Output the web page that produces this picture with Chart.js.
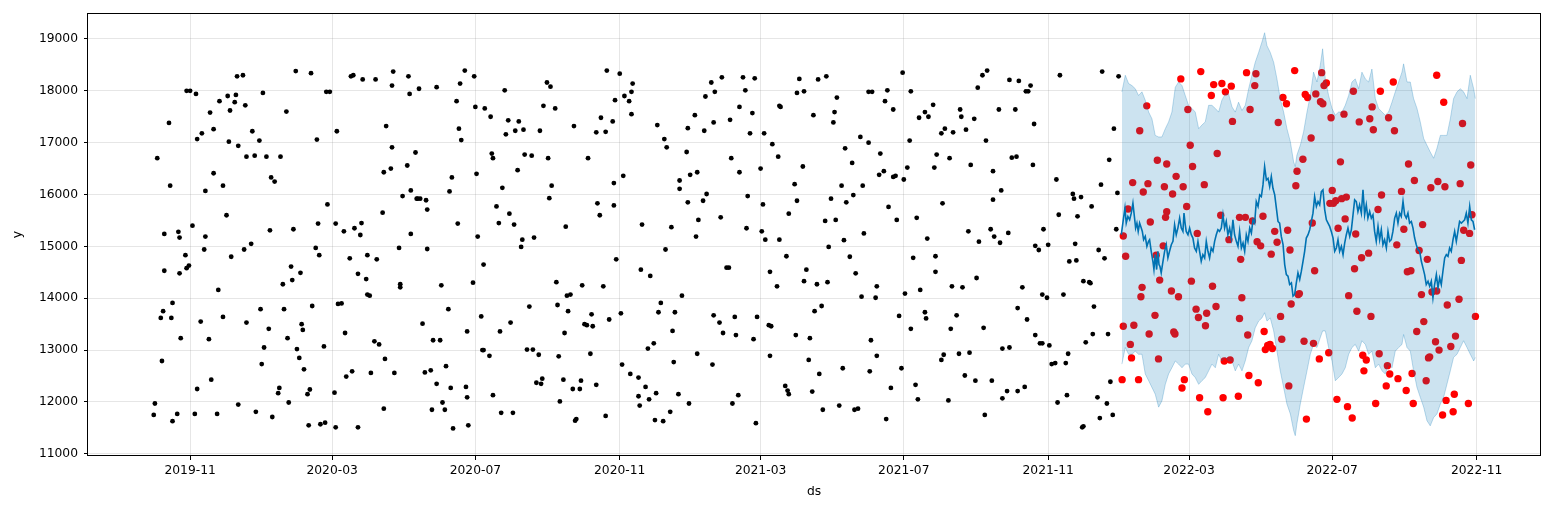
<!DOCTYPE html>
<html>
<head>
<meta charset="utf-8">
<script src="https://cdn.jsdelivr.net/npm/chart.js@4.4.0/dist/chart.umd.min.js"></script>
<style>
html,body{margin:0;padding:0;background:#fff;}
canvas{display:block;}
</style>
</head>
<body>
<canvas id="c" width="1550" height="511"></canvas>
<script>
// x values are days counted from 2019-11-01
const xTickDays = [0, 121, 243, 366, 486, 608, 731, 851, 973, 1096];
const xTickLabels = ['2019-11','2020-03','2020-07','2020-11','2021-03','2021-07','2021-11','2022-03','2022-07','2022-11'];
const yTickValues = [11000,12000,13000,14000,15000,16000,17000,18000,19000];

// history (black dots)
const trainDay = [
-31,-30,-28,-25,-24,-23,-22,-22,-18,-17,-16,-15,-15,-11,-10,-9,-9,-8,-4,-3,-1,-3,0,2,4,5,6,6,9,10,12,13,13,16,17,18,20,20,23,24,25,28,28,31,32,33,34,35,38,39,40,41,41,45,46,47,48,48,52,53,55,56,59,60,61,62,63,65,67,68,69,70,72,75,76,77,79,80,82,83,84,86,87,88,90,91,93,94,95,96,97,
100,102,101,103,104,107,108,109,110,111,114,115,116,117,119,123,124,124,125,126,129,131,132,133,136,137,139,138,140,143,143,145,146,147,150,151,151,153,154,157,158,159,161,164,165,165,166,167,171,172,172,173,174,178,179,179,181,185,186,187,188,188,192,193,194,196,195,198,200,201,202,202,205,206,207,210,210,213,214,215,217,218,220,221,222,223,224,227,228,229,230,231,234,235,236,236,237,
241,242,243,244,245,248,249,250,250,251,255,256,257,258,258,261,263,264,265,266,268,269,271,272,273,275,276,277,279,280,282,283,284,285,287,289,291,292,293,295,297,298,299,300,301,304,307,305,306,308,311,312,313,314,315,318,319,320,321,322,324,326,327,328,329,332,333,334,336,338,343,339,341,342,346,346,347,349,350,352,354,354,355,357,360,361,361,362,363,366,367,368,369,370,374,375,376,376,377,
382,382,383,384,385,388,390,391,392,395,396,397,398,399,401,403,404,405,406,409,410,411,412,413,416,417,417,419,423,424,424,425,426,430,431,432,432,433,437,438,439,440,444,445,446,446,447,451,452,453,454,457,459,460,461,462,464,465,467,468,468,471,473,474,475,477,479,480,481,482,483,486,487,488,489,490,493,495,494,494,496,500,501,502,502,503,507,508,509,510,510,515,516,517,517,519,
522,523,523,525,527,528,530,531,532,534,535,536,538,539,541,542,543,544,546,548,549,550,551,553,555,556,557,558,559,562,564,565,566,567,569,571,572,573,574,578,578,581,579,580,584,585,585,587,588,591,592,593,594,595,597,599,599,601,602,604,606,607,608,609,611,613,614,614,616,618,619,620,621,622,626,626,627,628,629,633,634,635,635,636,640,640,641,642,643,646,647,648,649,650,653,655,656,657,658,660,661,
663,664,665,668,669,670,671,672,675,676,677,678,679,682,683,684,684,685,689,690,691,692,692,696,697,698,698,700,703,704,705,705,706,709,711,712,714,713,716,718,719,720,720,723,724,726,726,727,730,731,732,734,737,738,739,740,741,744,746,747,748,749,752,753,754,755,756,759,760,761,761,763,766,767,768,769,770,773,774,775,776,777,779,781,782,783,784,786,787,789,790,791
];
const trainY = [
11750,11970,16700,13620,12790,13750,15240,14530,17380,16170,13620,11630,13910,11770,15280,15170,14480,13230,14830,14580,14630,18000,18000,15400,11770,17940,12250,17070,13550,17180,14940,15190,16070,13210,17580,12430,16410,17260,11770,14160,17800,13640,16170,15600,17900,17020,17620,14800,17780,17920,18280,16940,11950,18300,14940,17720,13530,16730,15050,17220,16750,11810,17040,13790,12730,17960,13050,16730,13410,15310,16330,11710,16250,12170,12270,16730,14270,13790,17600,13230,11990,14610,14350,15330,18380,13020,12850,14490,13500,13390,12630,
12150,12240,11550,18340,13850,14970,17060,15440,14830,11570,13070,11600,17980,15810,17980,12180,15440,11510,17220,13890,13900,15290,13330,12490,14770,18280,18300,12590,15350,14470,11510,15220,15450,18220,14370,14830,14070,14050,12560,13170,18220,14750,13110,15650,11870,16430,12830,17320,16500,18100,16910,18370,12560,14970,14210,14270,15970,16560,18280,17940,16080,15240,16810,15920,15920,15920,18040,13510,12570,15890,15710,14950,12610,11850,13190,18070,12350,13190,14250,11990,11850,12690,13790,16060,12270,16330,11490,17800,15440,17270,18140,17050,18390,12290,12090,13360,11550,
14300,18280,17690,16400,15190,13650,13000,13000,14650,17660,12890,17500,16790,16700,12130,15770,15450,13360,11790,16130,18010,17160,17430,15630,13530,11790,15420,17230,16470,17410,14990,15130,17250,16770,13010,13840,16750,13010,15170,12370,12910,17230,12350,12450,17710,18160,18080,16700,15930,16170,17660,14310,13870,12880,12010,12430,13330,15380,14050,13750,14070,12250,17320,11640,11670,12250,12410,14250,13500,13480,13460,16700,12930,13690,12330,17200,15830,15600,17480,14230,11730,17210,18390,13590,17410,15790,16220,17820,14750,18330,13710,12720,16360,17900,17800,12540,17980,17550,18140,
12110,12470,11930,14550,15420,12290,13030,12050,14430,13130,11650,12170,17340,13730,13910,11630,17070,14940,16910,11810,15370,13370,12770,13730,12150,16270,16110,14050,16820,17280,15850,11970,16380,17530,15190,12930,16430,15510,15880,17230,17890,16010,18160,12720,17390,13670,17980,13530,15560,18260,13330,14590,14590,17440,16700,11970,13640,13290,12130,16430,17690,18260,18010,15350,15970,17180,17570,13210,18240,11590,13640,16500,15290,15810,17180,15130,13480,13460,12890,14510,16970,14230,16730,15130,17710,17690,12310,14810,12220,12150,15630,16200,13290,15880,17960,18230,
16540,17990,14330,14550,12810,13230,12200,17530,13750,14270,18220,12540,13850,11850,15490,18280,14310,14990,15920,17390,17590,15510,17870,11930,16170,12650,15120,16890,15850,14800,16610,15990,11850,14480,11870,17110,14030,16170,15250,17000,17980,17980,12590,13190,14010,14230,12890,16380,16790,16450,17800,11670,18010,15760,12270,17640,16340,16360,15510,13660,12650,18350,16290,14090,16520,17040,13410,17990,14780,12330,15550,12050,17480,14160,13730,17590,13610,15150,17500,17730,16520,14810,14510,16770,12810,17180,15830,12910,17270,12030,16700,13410,14230,17200,13670,12930,17640,17500,14210,12510,17250,
15290,12950,16570,17460,12410,14390,18060,15090,18300,13430,11750,17040,18390,15330,12410,15900,16450,15190,17640,15070,16080,12070,13030,12210,15260,18210,13050,16710,17640,16730,13810,12210,18190,14210,12290,17990,17990,13590,18100,16570,17360,15010,13290,14930,13130,13130,14070,15330,14010,15030,13090,12730,12750,16290,11990,15610,18300,14070,12750,12130,12930,14710,16010,15920,15050,14730,15580,15950,11510,11530,14330,13150,14310,14290,15770,13310,13840,12090,14930,11690,16190,18370,14770,11970,13310,16670,12390,11750,17270,15330,16030,18280
];

// actual values in the forecast period (red dots)
const testDay = [
794,795,795,797,799,801,802,803,804,808,809,810,811,812,815,816,817,818,822,823,824,825,826,829,830,831,832,832,836,837,838,839,840,842,844,845,846,847,849,850,852,853,854,857,858,859,860,861,864,865,866,867,870,872,871,874,875,878,879,880,881,882,885,886,887,888,
893,894,895,896,894,899,900,901,902,903,905,907,908,909,910,912,914,915,916,918,920,922,921,924,926,927,929,930,931,934,935,936,937,938,941,943,942,944,945,948,949,950,951,952,955,956,957,958,959,962,963,964,965,966,968,970,972,973,971,974,976,977,978,980,981,983,984,985,986,987,990,991,992,993,994,996,
998,999,1002,1000,1004,1006,1005,1007,1008,1010,1012,1013,1014,1015,1019,1020,1021,1022,1025,1026,1028,1029,1032,1034,1036,1037,1038,1040,1041,1042,1043,1045,1047,1049,1050,1051,1053,1054,1055,1056,1057,1058,1061,1062,1062,1063,1064,1067,1068,1069,1070,1071,1074,1076,1077,1078,1081,1082,1083,1084,1085,1089,1090,1091,1092,1095
];
const testY = [
12430,15200,13460,14810,15720,13110,12850,16230,13480,12430,17230,14030,14210,16050,17710,16210,13310,15470,13670,14830,16660,12830,14350,15010,16150,15560,15670,16590,14140,16010,13350,13310,16350,14030,18230,12270,16150,12430,15770,17640,16950,14330,16540,13790,15250,13630,12080,18370,16190,13470,13710,11810,17910,18120,14230,13840,16790,15600,18140,12080,12790,17980,15130,12810,18090,17410,
12110,13610,14750,14010,15560,15560,18350,13290,12510,17640,15490,18100,18330,15090,12370,15010,15580,13360,13010,13090,13110,13030,14850,15290,15080,17390,13650,13210,17870,17750,15310,12310,14930,13890,18390,16450,16170,14070,14090,16680,13170,17930,11670,17870,17090,15450,13130,14530,17940,12830,17790,18350,17750,18100,18150,12950,17480,16080,15830,15830,15880,12050,15350,16630,15920,17550,15530,15950,11910,14050,11690,17990,14570,15240,13750,17400,
14780,12900,12810,12600,14870,13650,17460,17690,17250,11970,15710,12930,17990,15990,12310,12700,17480,12540,18170,17230,15030,12450,16060,15330,12220,14510,16590,14530,12550,11970,16270,13360,14920,14070,15420,13550,12410,14750,12850,12870,16130,14120,13160,14140,18300,16250,13000,11750,17780,16150,12030,13870,13070,11810,12150,13270,13980,16210,14730,17370,15310,11970,15250,16570,15610,13650
];

// forecast line (yhat)
const fcDay = [
793.3,795.2,796.4,797.5,798.9,800.4,801.8,803.2,804.6,805.5,806.6,807.7,808.9,810.3,811.2,812.3,813.7,815.1,816.5,817.4,818.8,820.2,821.1,822.2,823.4,824.5,825.4,826.2,827.3,828.8,830.2,831.6,833.0,834.4,835.9,837.3,838.7,840.1,841.5,843.0,844.4,845.8,846.7,847.8,848.6,850.1,851.5,852.9,854.3,855.7,857.2,858.6,860.0,861.4,862.8,864.3,865.7,867.1,868.5,869.9,871.4,872.8,874.2,875.6,877.0,878.5,879.9,881.3,882.7,884.1,885.6,887.0,888.4,889.8,
891.3,892.7,894.1,895.6,897.0,898.4,899.8,901.2,902.7,904.1,905.5,906.9,908.3,909.8,911.2,912.6,914.0,915.4,916.9,918.3,919.7,921.1,922.5,924.0,925.4,926.8,928.2,929.6,931.1,932.5,933.9,935.3,936.7,938.2,939.6,941.0,942.4,943.8,945.3,946.7,948.1,949.5,950.9,952.4,953.8,955.2,956.6,958.0,959.5,960.9,962.3,963.7,965.1,966.6,968.0,969.4,970.8,972.2,973.7,975.1,976.5,977.9,979.3,980.8,982.2,983.6,985.0,986.4,987.9,989.3,990.7,992.1,
993.5,994.9,996.3,997.8,999.2,1000.6,1002.0,1003.4,1004.9,1006.3,1007.7,1009.1,1010.5,1012.0,1013.4,1014.8,1016.2,1017.6,1019.1,1020.5,1021.9,1023.3,1024.7,1026.2,1027.6,1029.0,1030.4,1031.8,1033.3,1034.7,1036.1,1037.5,1038.9,1040.4,1041.8,1043.2,1044.6,1046.0,1047.5,1048.9,1050.3,1051.7,1053.1,1054.6,1056.0,1057.4,1058.8,1060.2,1061.7,1063.1,1064.5,1065.9,1067.3,1068.8,1070.2,1071.6,1073.0,1074.4,1075.9,1077.3,1078.7,1080.1,1081.5,1083.0,1084.4,1085.8,1087.2,1088.6,1090.1,1091.5,1092.9,1094.3
];
const fcY = [
15225,15545,15737,15449,15577,15513,15641,15833,15545,15353,15449,15289,15449,15353,15289,15129,15193,15001,15097,15129,14905,14713,14553,14841,14553,14905,14649,14617,14489,14713,14905,15033,14777,14905,15033,15097,15417,15225,15353,15545,15353,15289,15641,15417,15289,15225,15353,15225,15161,14969,14905,15097,14905,14713,14841,14777,15097,14905,14777,14969,14905,15097,15225,15321,15289,15353,15609,15353,15481,15225,15353,15161,15513,15225,
15097,15001,15289,14969,15065,14905,15225,15097,15353,15257,15513,15449,15865,15769,15993,15961,16185,16537,16281,16313,16153,16345,16121,15993,15737,15481,15449,15193,15033,14649,14457,14425,14265,14297,14041,14073,14297,14489,14361,14521,14713,14905,15161,15225,15321,15481,15641,15961,15769,15865,15801,16057,16089,15705,15513,15449,15385,15289,15161,14905,14969,15129,14905,15001,14841,15065,15225,15353,15193,15321,15609,15897,
15865,15673,15801,15641,16089,15609,15801,15545,15673,15545,15609,15289,15097,15385,15129,15321,15033,15129,14969,15289,15097,15129,15289,15545,15641,15449,15641,15577,15865,15609,15545,15641,15449,15481,15353,15161,15033,14937,14905,14713,14585,14457,14265,14329,14233,14329,14009,14265,14457,14201,14393,14265,14521,14777,14841,14809,14969,14905,15129,15289,15097,15289,15481,15449,15481,15513,15641,15449,15769,15513,15481,15321
];

// uncertainty interval
const bandDay = [
793.8,796.7,799.5,802.4,805.2,808.0,810.9,813.7,816.6,819.4,822.2,825.1,827.9,830.8,833.6,836.4,839.3,842.1,845.0,847.8,850.6,853.5,856.3,859.2,862.0,864.8,867.7,870.5,873.4,876.2,879.0,881.9,884.7,887.6,
890.4,893.2,896.1,898.9,901.8,904.6,907.4,910.3,913.1,915.4,917.4,920.2,923.1,925.9,928.7,931.6,934.4,937.3,940.1,941.5,942.9,945.8,948.6,951.5,954.3,957.1,960.0,962.8,964.8,967.1,969.9,972.8,975.6,978.4,981.3,984.1,987.0,989.8,992.6,995.5,
998.3,1001.2,1004.0,1006.8,1009.7,1012.5,1015.4,1018.2,1021.0,1023.9,1026.7,1029.6,1032.4,1033.8,1036.7,1039.5,1042.3,1045.2,1048.0,1050.9,1053.7,1056.5,1059.4,1062.2,1065.1,1067.9,1070.7,1073.6,1076.4,1079.3,1082.1,1084.9,1087.8,1090.6,1093.5,1094.9
];
const bandUpper = [
17980,18300,18140,18100,18040,17910,17980,17820,17590,17460,17140,17110,17110,17270,17400,17590,18070,18170,18100,17910,17720,17660,17590,17270,17340,17400,17720,17720,17660,17590,17820,17940,17940,17690,
17590,17780,17620,17720,18040,18300,18550,18740,18940,19120,18870,18740,18550,18230,17850,17590,17270,17020,16630,16540,16760,16950,17210,17590,17910,18360,18170,18490,18810,18230,17910,17660,17530,17590,17590,17720,17910,18170,18230,18040,
18360,18230,18170,18420,17850,17660,17590,17530,17590,17780,17980,18170,18360,18520,18170,18170,17850,17660,17400,17080,16950,16820,16700,16890,17140,17140,17140,17460,17850,17980,18040,17980,17850,18300,18040,17850
];
const bandLower = [
12730,13050,12920,12920,12980,12920,12920,12540,12410,12280,12150,11900,12020,12340,12540,12660,12790,12730,12660,12730,12730,12540,12470,12340,12410,12470,12600,12730,12660,12920,12790,12860,12790,12790,
12600,12730,12600,12790,13050,13180,13430,13560,13620,13720,13560,13620,13370,12980,12600,12280,11960,11770,11450,11350,11580,11960,12280,12600,12920,13110,13050,13240,13370,13370,13050,12790,12410,12470,12540,12660,12920,13050,13110,12980,
13180,13110,12920,12980,12660,12730,12600,12540,12730,12660,12980,13050,13110,13300,13050,12980,12600,12280,12090,11900,11640,11540,11700,11770,11960,12090,12340,12600,12860,12920,13050,13180,13050,12920,12790,12860
];

function pts(xs, ys) { return xs.map((x, i) => ({ x: x, y: ys[i] })); }

const FONT = 'DejaVu Sans';
const BLUE = '#0072B2';

const whiteBg = {
  id: 'whiteBg',
  beforeDraw(chart) {
    const ctx = chart.ctx;
    ctx.save();
    ctx.fillStyle = '#ffffff';
    ctx.fillRect(0, 0, chart.width, chart.height);
    ctx.restore();
  }
};
const frame = {
  id: 'frame',
  afterDraw(chart) {
    const a = chart.chartArea, ctx = chart.ctx;
    ctx.save();
    ctx.strokeStyle = '#000000';
    ctx.lineWidth = 1;
    ctx.strokeRect(Math.round(a.left) - 0.5, Math.round(a.top) + 0.5, Math.round(a.right - a.left) + 1, Math.round(a.bottom - a.top) - 1);
    ctx.restore();
  }
};

new Chart(document.getElementById('c'), {
  type: 'line',
  data: {
    datasets: [
      { label: 'history', data: pts(trainDay, trainY), showLine: false, pointRadius: 2.4, pointHoverRadius: 2.4,
        pointBackgroundColor: '#000000', pointBorderWidth: 0, borderColor: '#000000', order: 5 },
      { label: 'actual', data: pts(testDay, testY), showLine: false, pointRadius: 3.7, pointHoverRadius: 3.7,
        pointBackgroundColor: '#ff0000', pointBorderWidth: 0, borderColor: '#ff0000', order: 4 },
      { label: 'yhat_lower', data: pts(bandDay, bandLower), showLine: true, borderColor: 'rgba(0,114,178,0.25)',
        borderWidth: 1, pointRadius: 0, fill: false, tension: 0, order: 3 },
      { label: 'yhat_upper', data: pts(bandDay, bandUpper), showLine: true, borderColor: 'rgba(0,114,178,0.25)',
        borderWidth: 1, pointRadius: 0, fill: '-1', backgroundColor: 'rgba(0,114,178,0.2)', tension: 0, order: 2 },
      { label: 'yhat', data: pts(fcDay, fcY), showLine: true, borderColor: BLUE, borderWidth: 1.6,
        pointRadius: 0, fill: false, tension: 0, order: 1 }
    ]
  },
  options: {
    responsive: false,
    animation: false,
    devicePixelRatio: 1,
    layout: { autoPadding: false, padding: { top: 11, right: 10, left: 0, bottom: 0 } },
    plugins: { legend: { display: false }, tooltip: { enabled: false } },
    scales: {
      x: {
        type: 'linear',
        min: -87, max: 1150,
        afterFit(scale) { scale.height = 55; },
        afterBuildTicks(scale) { scale.ticks = xTickDays.map(v => ({ value: v })); },
        ticks: {
          color: '#000', font: { family: FONT, size: 12.3 }, padding: 3, maxRotation: 0, autoSkip: false,
          callback(value) { const i = xTickDays.indexOf(value); return i >= 0 ? xTickLabels[i] : ''; }
        },
        grid: { color: 'rgba(128,128,128,0.2)', lineWidth: 1, tickColor: '#000', tickLength: 4, drawTicks: true },
        border: { display: false },
        title: { display: true, text: 'ds', color: '#000', font: { family: FONT, size: 12.3 }, padding: { top: 4, bottom: 12 } }
      },
      y: {
        type: 'linear',
        min: 10958, max: 19493,
        afterFit(scale) { scale.width = 88; },
        afterBuildTicks(scale) { scale.ticks = yTickValues.map(v => ({ value: v })); },
        ticks: {
          color: '#000', font: { family: FONT, size: 12.3 }, padding: 6,
          callback(value) { return String(value); }
        },
        grid: { color: 'rgba(128,128,128,0.2)', lineWidth: 1, tickColor: '#000', tickLength: 4, drawTicks: true },
        border: { display: false },
        title: { display: true, text: 'y', color: '#000', font: { family: FONT, size: 12.3 }, padding: { top: 10, bottom: 4 } }
      }
    }
  },
  plugins: [whiteBg, frame]
});
</script>
</body>
</html>
